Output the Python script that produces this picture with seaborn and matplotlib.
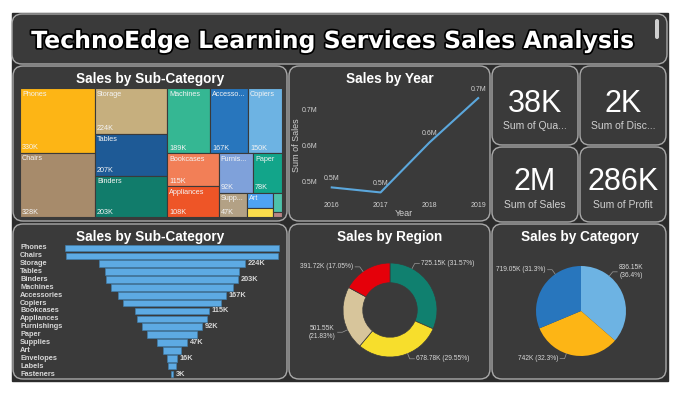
import numpy as np
import matplotlib
matplotlib.use("Agg")
import matplotlib.pyplot as plt
import matplotlib.patheffects as pe
from matplotlib.patches import FancyBboxPatch, Rectangle
from matplotlib.transforms import blended_transform_factory
import seaborn as sns

# ---- data ----
sub_cats = ["Phones", "Chairs", "Storage", "Tables", "Binders", "Machines", "Accessories",
            "Copiers", "Bookcases", "Appliances", "Furnishings", "Paper", "Supplies", "Art",
            "Envelopes", "Labels", "Fasteners"]
sub_sales = [330, 328, 224, 207, 203, 189, 167, 150, 115, 108, 92, 78, 47, 27, 16, 12, 3]  # K
tree_colors = ["#FDB515", "#A78B6B", "#C6AF7E", "#1E5A96", "#117C6B", "#35B793", "#2876BD",
               "#6DB3E3", "#F27F57", "#EE5527", "#7FA1DA", "#12A58A", "#B3A185", "#4FA3F2",
               "#FCDD4C", "#4DC2AA", "#B98585"]
tree_groups = [2, 3, 3, 2, 2, 1, 2, 1, 1]

years = [2016, 2017, 2018, 2019]
year_sales = [0.484, 0.470, 0.609, 0.733]  # M

kpi_values = [37873, 1561, 2297201, 286397]
kpi_names = ["Sum of Qua...", "Sum of Disc...", "Sum of Sales", "Sum of Profit"]

regions = ["West", "East", "Central", "South"]
region_sales = [725.15, 678.78, 501.55, 391.72]  # K
region_colors = ["#10806F", "#F7DE2C", "#D7C59B", "#E5000A"]

categories = ["Technology", "Furniture", "Office Supplies"]
cat_sales = [836.15, 742.0, 719.05]  # K
cat_colors = ["#6DB3E3", "#FDB515", "#2876BD"]

# ---- figure / background ----
W, H = 680, 393
fig = plt.figure(figsize=(6.8, 3.93), dpi=100)
fig.patch.set_facecolor("white")
plt.rcParams["font.family"] = ["Liberation Sans", "DejaVu Sans"]

bg = fig.add_axes([0, 0, 1, 1])
bg.set_xlim(0, W)
bg.set_ylim(H, 0)
bg.axis("off")
bg.set_zorder(-5)
bg.add_patch(Rectangle((12, 13), 656, 368, color="#2c2c2c"))


def panel(x0, y0, x1, y1, r=10):
    bg.add_patch(FancyBboxPatch((x0, y0), x1 - x0, y1 - y0,
                                boxstyle=f"round,pad=0,rounding_size={r}",
                                fc="#3a3a3a", ec="#a9a9a9", lw=1.0))


def px_axes(x0, y0, x1, y1):
    ax = fig.add_axes([x0 / W, 1 - y1 / H, (x1 - x0) / W, (y1 - y0) / H])
    ax.set_facecolor("none")
    return ax


panel(12, 14, 667, 64)
panel(13, 66, 287, 221)
panel(289, 66, 490, 221)
panel(492, 66, 578, 145)
panel(580, 66, 666, 145)
panel(492, 147, 578, 222)
panel(580, 147, 666, 222)
panel(13, 224, 287, 379)
panel(289, 224, 490, 379)
panel(492, 224, 666, 379)
bg.add_patch(FancyBboxPatch((655, 19), 4, 20, boxstyle="round,pad=0,rounding_size=2",
                            fc="#cfcfcf", ec="none"))

bg.text(333, 41, "TechnoEdge Learning Services Sales Analysis", ha="center", va="center",
        fontsize=17, fontweight="bold", color="white", family="DejaVu Sans",
        path_effects=[pe.withStroke(linewidth=2.5, foreground="black")])

title_kw = dict(ha="center", va="center", fontsize=9.8, fontweight="bold", color="white")
bg.text(150, 79, "Sales by Sub-Category", **title_kw)
bg.text(390, 79, "Sales by Year", **title_kw)
bg.text(150, 237, "Sales by Sub-Category", **title_kw)
bg.text(390, 237, "Sales by Region", **title_kw)
bg.text(580, 237, "Sales by Category", **title_kw)


# ---- treemap ----
def strip_layout(vals, groups, x, y, w, h):
    rects = []
    total = float(sum(vals))
    i = 0
    for g in groups:
        part = vals[i:i + g]
        s = float(sum(part))
        if w >= h:
            cw = w * s / total
            yy = y
            for v in part:
                hh = h * v / s
                rects.append((x, yy, cw, hh))
                yy += hh
            x += cw
            w -= cw
        else:
            rh = h * s / total
            xx = x
            for v in part:
                ww = w * v / s
                rects.append((xx, y, ww, rh))
                xx += ww
            y += rh
            h -= rh
        total -= s
        i += g
    return rects


tw, th = 262, 129
ax = px_axes(20, 88, 20 + tw, 88 + th)
ax.set_xlim(0, tw)
ax.set_ylim(th, 0)
ax.axis("off")
for (x, y, w, h), name, v, c in zip(strip_layout(sub_sales, tree_groups, 0, 0, tw, th),
                                    sub_cats, sub_sales, tree_colors):
    ax.add_patch(Rectangle((x, y), w, h, fc=c, ec="#3a3a3a", lw=0.8))
    keep = int((w - 4) / 3.6)
    label = name if len(name) <= keep else name[:keep - 2] + "..."
    if h >= 12 and w >= 15:
        ax.text(x + 2, y + 2.5, label, ha="left", va="top", fontsize=5.2, color="#f4f4f4")
    if h >= 20 and w >= 15:
        ax.text(x + 2, y + h - 1.5, f"{v}K", ha="left", va="bottom", fontsize=5.2, color="#f4f4f4")

# ---- line chart ----
ax = px_axes(322, 92, 485, 198)
sns.lineplot(x=years, y=year_sales, ax=ax, color="#5BA7DC", lw=1.5)
ax.set_xlim(2015.8, 2019.14)
ax.set_ylim(0.4545, 0.750)
ax.set_xticks(years)
ax.set_yticks([0.5, 0.6, 0.7])
ax.set_yticklabels([f"{t:.1f}M" for t in [0.5, 0.6, 0.7]])
ax.tick_params(length=0, labelsize=5, labelcolor="#d0d0d0", pad=3)
for s in ax.spines.values():
    s.set_visible(False)
ax.set_xlabel("Year", fontsize=6.5, color="#d0d0d0", labelpad=0)
ax.set_ylabel("Sum of Sales", fontsize=6.5, color="#d0d0d0", labelpad=1)
for xv, yv in zip(years, year_sales):
    ax.annotate(f"{yv:.1f}M", (xv, yv), xytext=(0, 4), textcoords="offset points",
                ha="center", va="bottom", fontsize=5, color="#d0d0d0")


# ---- KPI cards ----
def fmt_kpi(v):
    if v >= 1e6:
        return f"{v / 1e6:.0f}M"
    return f"{v / 1e3:.0f}K"


card_centers = [(535, 104, 126), (623, 104, 126), (535, 182, 205), (623, 182, 205)]
for (cx, vy, ny), v, n in zip(card_centers, kpi_values, kpi_names):
    bg.text(cx, vy, fmt_kpi(v), ha="center", va="center", fontsize=22, color="white")
    bg.text(cx, ny, n, ha="center", va="center", fontsize=7.5, color="#d0d0d0")

# ---- funnel ----
ax = px_axes(62, 244, 282, 378)
vals = np.array(sub_sales, dtype=float)
ypos = np.arange(len(sub_cats))
ax.barh(ypos, vals, left=-vals / 2, height=0.84, color="#5DAAE3", edgecolor="#3f7fb0", lw=0.4)
ax.set_xlim(-vals.max() * 0.514, vals.max() * 0.514)
ax.set_ylim(len(sub_cats) - 0.5, -0.5)
ax.axis("off")
tr = blended_transform_factory(ax.transAxes, ax.transData)
for i, name in enumerate(sub_cats):
    ax.text(-0.19, i, name, transform=tr, ha="left", va="center", fontsize=5.3,
            fontweight="bold", color="#d8d8d8")
for i in range(2, len(sub_cats), 2):
    ax.text(vals[i] / 2 + 4, i, f"{sub_sales[i]}K", ha="left", va="center", fontsize=5.3,
            fontweight="bold", color="#d8d8d8")


# ---- pie helpers ----
def pie_labels(ax, values, texts, angles, rad):
    for t, a in zip(texts, angles):
        r = np.deg2rad(a)
        p0 = np.array([np.cos(r), np.sin(r)]) * 1.0
        p1 = np.array([np.cos(r), np.sin(r)]) * rad
        side = 1 if np.cos(r) >= 0 else -1
        p2 = p1 + np.array([0.1 * side, 0])
        ax.plot([p0[0], p1[0], p2[0]], [p0[1], p1[1], p2[1]], color="#9a9a9a", lw=0.5)
        ax.text(p2[0] + 0.04 * side, p2[1], t, ha="left" if side > 0 else "right",
                va="center", fontsize=4.8, color="#d8d8d8", multialignment="center")


# donut
ax = px_axes(290, 250, 490, 370)
ax.pie(region_sales, colors=region_colors, startangle=90, counterclock=False,
       wedgeprops=dict(width=0.42, edgecolor="#3a3a3a", lw=0.5))
ax.set_xlim(-100 / 47, 100 / 47)
ax.set_ylim(-60 / 47, 60 / 47)
ax.set_aspect("auto")
rtot = sum(region_sales)
rtexts = [f"{v:g}K ({v / rtot * 100:.2f}%)" for v in region_sales]
rtexts[2] = rtexts[2].replace(" (", "\n(")
pie_labels(ax, region_sales, rtexts, [62, -68, 205, 125], 1.12)

# pie
ax = px_axes(496, 251, 666, 371)
ax.pie(cat_sales, colors=cat_colors, startangle=90, counterclock=False,
       wedgeprops=dict(edgecolor="none"))
ax.set_xlim(-85 / 45, 85 / 45)
ax.set_ylim(-60 / 45, 60 / 45)
ax.set_aspect("auto")
ctot = sum(cat_sales)
ctexts = [f"{v:g}K ({v / ctot * 100:.1f}%)" for v in cat_sales]
ctexts[0] = ctexts[0].replace(" (", "\n(")
pie_labels(ax, cat_sales, ctexts, [51, 251, 125], 1.12)

fig.savefig("out.png", dpi=100, facecolor="white")
